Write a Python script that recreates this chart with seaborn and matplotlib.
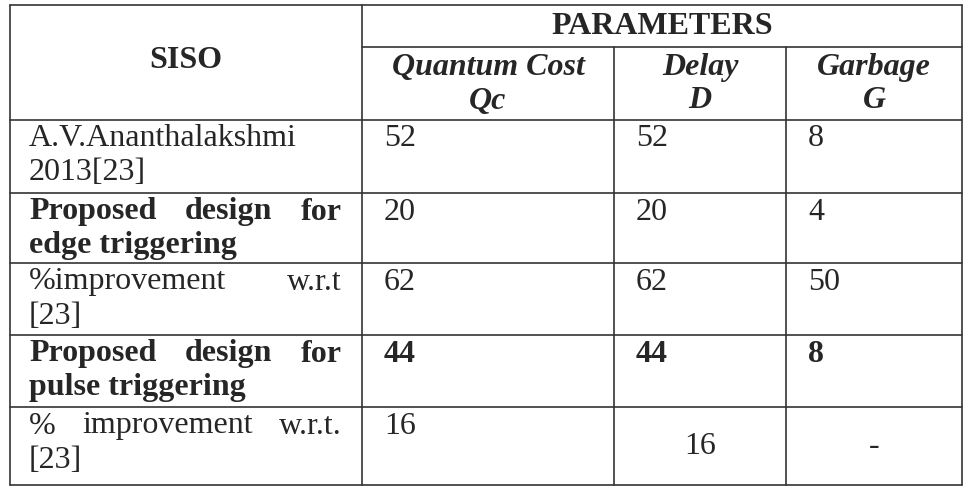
import matplotlib
matplotlib.use("Agg")
import matplotlib.pyplot as plt
import seaborn as sns

sns.set_style("white")
plt.rcParams['font.family'] = ['Liberation Serif', 'DejaVu Serif']

# table content
group_title = "PARAMETERS"
corner_label = "SISO"
param_names = ["Quantum Cost", "Delay", "Garbage"]
param_symbols = ["Qc", "D", "G"]
row_labels = [
    [["A.V.Ananthalakshmi"], ["2013[23]"]],
    [["Proposed", "design", "for"], ["edge triggering"]],
    [["%improvement", "w.r.t"], ["[23]"]],
    [["Proposed", "design", "for"], ["pulse triggering"]],
    [["%", "improvement", "w.r.t."], ["[23]"]],
]
row_bold = [False, True, False, True, False]
qc_values = ["52", "20", "62", "44", "16"]
delay_values = ["52", "20", "62", "44", "16"]
garbage_values = ["8", "4", "50", "8", "-"]
value_bold = [False, False, False, True, False]
value_centered = [False, False, False, False, True]

# geometry in pixels
col_x = [10, 362, 614, 786, 962]
row_y = [5, 47, 120, 193, 263, 335, 407, 485]
fs = 23

fig = plt.figure(figsize=(9.73, 4.92), dpi=100)
ax = fig.add_axes([0, 0, 1, 1])
ax.set_xlim(0, 973)
ax.set_ylim(492, 0)
ax.axis('off')
renderer = fig.canvas.get_renderer()

lc = '#333333'
lw = 1.2
ax.plot([col_x[0], col_x[-1]], [row_y[0]] * 2, color=lc, lw=lw)
ax.plot([col_x[1], col_x[-1]], [row_y[1]] * 2, color=lc, lw=lw)
for y in row_y[2:]:
    ax.plot([col_x[0], col_x[-1]], [y, y], color=lc, lw=lw)
for i, x in enumerate(col_x):
    top = row_y[1] if i in (2, 3) else row_y[0]
    ax.plot([x, x], [top, row_y[-1]], color=lc, lw=lw)

# header
ax.text((col_x[1] + col_x[-1]) / 2, 26, group_title, ha='center', va='center',
        fontsize=fs, fontweight='bold')
ax.text((col_x[0] + col_x[1]) / 2, 60, corner_label, ha='center', va='center',
        fontsize=fs, fontweight='bold')
for j, (name, sym) in enumerate(zip(param_names, param_symbols)):
    cx = (col_x[j + 1] + col_x[j + 2]) / 2
    ax.text(cx, 68, name, ha='center', va='center', fontsize=fs,
            fontweight='bold', style='italic')
    ax.text(cx, 101, sym, ha='center', va='center', fontsize=fs,
            fontweight='bold', style='italic')


def width(t):
    return t.get_window_extent(renderer).width


# body
left, right = col_x[0] + 19, col_x[1] - 20
for i, lines in enumerate(row_labels):
    y0 = row_y[i + 2]
    w = 'bold' if row_bold[i] else 'normal'
    for k, words in enumerate(lines):
        y = y0 + 19 + k * 34
        t0 = ax.text(left, y, words[0], ha='left', va='center', fontsize=fs, fontweight=w)
        if len(words) > 1:
            t1 = ax.text(right, y, words[-1], ha='right', va='center', fontsize=fs, fontweight=w)
            if len(words) == 3:
                tm = ax.text(0, y, words[1], ha='center', va='center', fontsize=fs, fontweight=w)
                wl, wr, wm = width(t0), width(t1), width(tm)
                gap = (right - left - wl - wr - wm) / 2
                tm.set_x(left + wl + gap + wm / 2)
    w = 'bold' if value_bold[i] else 'normal'
    for j, vals in enumerate([qc_values, delay_values, garbage_values]):
        if value_centered[i] and j > 0:
            ax.text((col_x[j + 1] + col_x[j + 2]) / 2, y0 + 39, vals[i], ha='center',
                    va='center', fontsize=fs, fontweight=w)
        else:
            ax.text(col_x[j + 1] + 22, y0 + 19, vals[i], ha='left', va='center',
                    fontsize=fs, fontweight=w)

fig.savefig('out.png', dpi=100, facecolor='white')
